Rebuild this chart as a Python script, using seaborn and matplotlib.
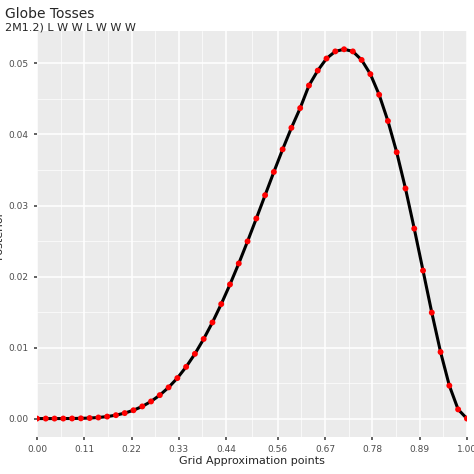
import numpy as np
import pandas as pd
import matplotlib
matplotlib.use("Agg")
import matplotlib.pyplot as plt
import seaborn as sns

# grid of 50 points, posterior
grid_idx = list(range(50))
posterior = [0, 0, 0, 2.6e-6, 1.05e-5, 3.05e-5, 7.3e-5, 1.50e-4, 2.79e-4, 4.77e-4,
             7.69e-4, 1.171e-3, 1.711e-3, 2.41e-3, 3.30e-3, 4.39e-3, 5.70e-3, 7.28e-3, 9.11e-3, 1.121e-2,
             1.354e-2, 1.612e-2, 1.889e-2, 2.184e-2, 2.495e-2, 2.817e-2, 3.145e-2, 3.473e-2, 3.791e-2, 4.094e-2,
             4.372e-2, 4.69e-2, 4.90e-2, 5.07e-2, 5.17e-2, 5.20e-2, 5.17e-2, 5.05e-2, 4.85e-2, 4.56e-2,
             4.19e-2, 3.75e-2, 3.24e-2, 2.675e-2, 2.084e-2, 1.492e-2, 9.37e-3, 4.64e-3, 1.29e-3, 0]
tick_vals = [0, 0.11, 0.22, 0.33, 0.44, 0.56, 0.67, 0.78, 0.89, 1.0]

df = pd.DataFrame({"p": [i / 49 for i in grid_idx], "posterior": posterior})

sns.set_theme(style="darkgrid", rc={"axes.facecolor": "#EBEBEB", "grid.color": "white"})
fig, ax = plt.subplots(figsize=(4.74, 4.74), dpi=100)

sns.lineplot(data=df, x="p", y="posterior", color="black", linewidth=2.2, ax=ax)
sns.scatterplot(data=df, x="p", y="posterior", color="red", s=18, edgecolor="none", zorder=3, ax=ax)

ax.set_xlim(0, 1)
ax.set_ylim(-0.0026, 0.0546)
ax.set_xticks(tick_vals)
ax.set_xticklabels(["%.2f" % t for t in tick_vals])
ax.set_yticks([0, 0.01, 0.02, 0.03, 0.04, 0.05])
ax.set_yticklabels(["0.00", "0.01", "0.02", "0.03", "0.04", "0.05"])
ax.set_xticks([(a + b) / 2 for a, b in zip(tick_vals[:-1], tick_vals[1:])], minor=True)
ax.set_yticks([0.005, 0.015, 0.025, 0.035, 0.045], minor=True)
ax.grid(which="major", color="white", linewidth=1.1)
ax.grid(which="minor", color="white", linewidth=0.5)
ax.tick_params(which="both", labelsize=6.5, colors="#4D4D4D", length=2.5, left=True, bottom=True)
ax.tick_params(which="minor", length=0)
for s in ax.spines.values():
    s.set_visible(False)
ax.set_xlabel("Grid Approximation points", fontsize=8, labelpad=1)
ax.set_ylabel("Posterior", fontsize=8, labelpad=3)
fig.text(0.01, 0.985, "Globe Tosses", fontsize=10, va="top")
fig.text(0.01, 0.952, "2M1.2) L W W L W W W", fontsize=8, va="top")

fig.subplots_adjust(left=0.078, right=0.985, top=0.935, bottom=0.078)
fig.savefig("out.png", dpi=100)
